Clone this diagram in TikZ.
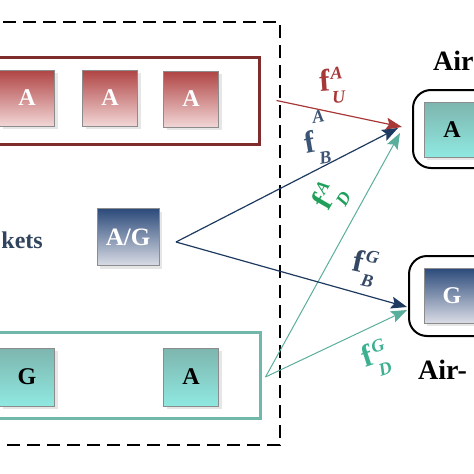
\documentclass[tikz,border=0pt]{standalone}
\usepackage{amsmath}
\usepackage{fontspec}
\setmainfont{Liberation Serif}
\usepackage{tikz}
\usetikzlibrary{positioning,calc,shadows,arrows.meta}

\definecolor{rowred}{HTML}{7F2C2C}
\definecolor{rowteal}{HTML}{72B8AA}
\definecolor{redtop}{HTML}{B04444}
\definecolor{redbot}{HTML}{F2D6D6}
\definecolor{bluetop}{HTML}{2B4A7A}
\definecolor{bluebot}{HTML}{DADCE5}
\definecolor{tealtop}{HTML}{7DB5AE}
\definecolor{tealbot}{HTML}{8FE9E1}
\definecolor{flowred}{HTML}{A83838}
\definecolor{flowblue}{HTML}{1F3A60}
\definecolor{flowteal}{HTML}{5AAE9C}
\definecolor{labblue}{HTML}{3D5575}
\definecolor{labgreen}{HTML}{1FA05A}
\definecolor{labteal}{HTML}{3CB090}

% f with a superscript and a subscript, scripts set by hand
\newcommand{\scr}[1]{\fontsize{18}{19}\selectfont\bfseries\itshape #1}
\newcommand{\flowlab}[3][0.36em]{\textbf{f}\kern1pt\rlap{\raisebox{#1}{\scr{#2}}}\raisebox{-0.42em}{\scr{#3}}}

\begin{document}
\begin{tikzpicture}[x=1pt, y=-1pt,
    pkt/.style={draw=black!45, line width=0.8pt, minimum width=55pt, minimum height=56pt,
        inner sep=0pt, font=\fontsize{24}{26}\selectfont\bfseries,
        drop shadow={shadow xshift=3pt, shadow yshift=-3pt, opacity=0.2}},
    redpkt/.style={pkt, top color=redtop, bottom color=redbot, text=white},
    bluepkt/.style={pkt, top color=bluetop, bottom color=bluebot, text=white},
    tealpkt/.style={pkt, top color=tealtop, bottom color=tealbot, text=black},
    flow/.style={-{Stealth[length=16pt, width=12pt, inset=3pt]}, line width=1.2pt},
    flowlabel/.style={font=\fontsize{31}{33}\selectfont, inner sep=0pt},
    airbox/.style={draw, line width=2pt, rounded corners=18pt}
]
    \useasboundingbox (0,0) rectangle (474,474);

    % sending side
    \draw[dashed, line width=1.4pt, dash pattern=on 13pt off 7pt] (-10,22) rectangle (280,445);
    \node (redrow) [draw=rowred, line width=3pt, minimum width=269pt, minimum height=87pt] at (124.5,100.5) {};
    \node (tealrow) [draw=rowteal, line width=3pt, minimum width=270pt, minimum height=86pt] at (125,375) {};

    \node (a1) [redpkt] at (27,98) {A};
    \node (a2) [redpkt] at (110,98) {A};
    \node (a3) [redpkt] at (191,99) {A};
    \node (ag) [bluepkt, minimum width=62pt, minimum height=57pt, font=\fontsize{25}{27}\selectfont\bfseries] at (128,237) {A/G};
    \node (g1) [tealpkt, minimum height=58pt] at (27,377) {G};
    \node (a4) [tealpkt, minimum height=58pt] at (191,377) {A};
    \node (pkts) [anchor=base east, font=\fontsize{24}{26}\selectfont\bfseries, text=labblue!80!black, inner sep=0pt] at (43,248) {kets};

    % receiving side
    \node (airA) [airbox, minimum width=120pt, minimum height=78pt, anchor=west] at (412,129) {};
    \node (airG) [airbox, minimum width=120pt, minimum height=80pt, anchor=west] at (408,296) {};
    \node (rxA) [tealpkt, minimum width=56pt, minimum height=55pt] at (452,129.5) {A};
    \node (rxG) [bluepkt, minimum width=56pt, minimum height=55pt] at (452,295.5) {G};
    \node (airAname) [anchor=base west, font=\fontsize{28}{30}\selectfont\bfseries, inner sep=0pt] at (433,70) {Air};
    \node (airGname) [anchor=base west, font=\fontsize{28}{30}\selectfont\bfseries, inner sep=0pt] at (418,379) {Air-};

    % flows
    \coordinate (srcU) at ([xshift=16pt]redrow.east);
    \coordinate (srcB) at (176,242);
    \coordinate (srcD) at ([xshift=4pt, yshift=-2pt]tealrow.east);
    \coordinate (inUA) at (402,127);
    \coordinate (inBA) at (398,128);
    \coordinate (inDA) at (400,133);
    \coordinate (inBG) at (407,307);
    \coordinate (inDG) at (407,310);

    \draw[flow, color=flowred] (srcU) -- (inUA);
    \draw[flow, color=flowteal, line width=1pt] (srcD) -- (inDA);
    \draw[flow, color=flowblue] (srcB) -- (inBA);
    \draw[flow, color=flowteal, line width=1pt] (srcD) -- (inDG);
    \draw[flow, color=flowblue] (srcB) -- (inBG);

    \node (labUA) [flowlabel, text=flowred, rotate=4] at (332,86) {\flowlab{A}{U}};
    \node (labBA) [flowlabel, text=labblue, rotate=10] at (316,138) {\flowlab[0.9em]{A}{B}};
    \node (labDA) [flowlabel, text=labgreen, rotate=60] at (330,198) {\flowlab{A}{D}};
    \node (labBG) [flowlabel, text=labblue!85!black, rotate=-12] at (364,268) {\flowlab{G}{B}};
    \node (labDG) [flowlabel, text=labteal, rotate=18] at (376,359) {\flowlab{G}{D}};
\end{tikzpicture}
\end{document}
